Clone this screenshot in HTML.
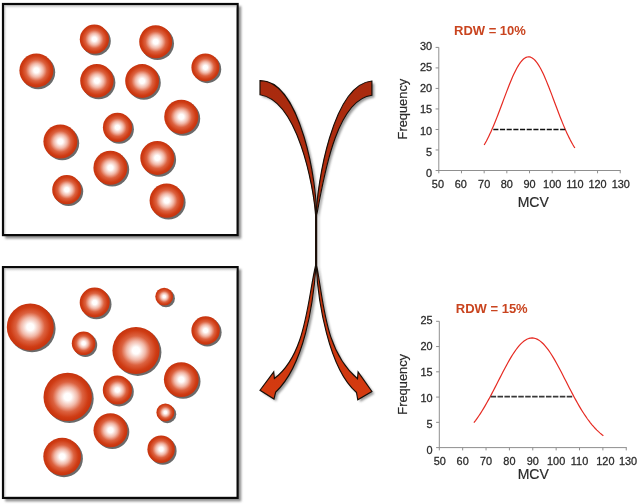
<!DOCTYPE html>
<html><head><meta charset="utf-8"><title>RDW</title>
<style>
html,body{margin:0;padding:0;background:#fff;}
body{width:640px;height:504px;overflow:hidden;font-family:"Liberation Sans",sans-serif;}
svg{display:block;opacity:0.999}
.tk{font-family:"Liberation Sans",sans-serif;font-size:10.2px;fill:#2a2a2a;stroke:#2a2a2a;stroke-width:0.25px}
.tt{font-family:"Liberation Sans",sans-serif;font-size:13px;font-weight:bold;fill:#c9441f}
.fl{font-family:"Liberation Sans",sans-serif;font-size:12.85px;fill:#2a2a2a;stroke:#2a2a2a;stroke-width:0.2px}
.ml{font-family:"Liberation Sans",sans-serif;font-size:14px;fill:#2a2a2a;stroke:#2a2a2a;stroke-width:0.2px}
</style></head><body>
<svg width="640" height="504" viewBox="0 0 640 504">
<defs>
<radialGradient id="sg" cx="0.5" cy="0.5" r="0.5">
<stop offset="0" stop-color="#ffffff"/>
<stop offset="0.15" stop-color="#fffdfc"/>
<stop offset="0.4" stop-color="#f1b8a8"/>
<stop offset="0.62" stop-color="#dc6240"/>
<stop offset="0.85" stop-color="#cf3c14"/>
<stop offset="1" stop-color="#c5330e"/>
</radialGradient>
<linearGradient id="ag" x1="0" y1="80" x2="0" y2="400" gradientUnits="userSpaceOnUse">
<stop offset="0" stop-color="#a82a0e"/>
<stop offset="0.45" stop-color="#b42e0e"/>
<stop offset="1" stop-color="#d63b10"/>
</linearGradient>
<linearGradient id="ist" x1="0" y1="0" x2="0" y2="1"><stop offset="0" stop-color="#9a9a9a" stop-opacity="0.75"/><stop offset="1" stop-color="#fff" stop-opacity="0"/></linearGradient>
<linearGradient id="isl" x1="0" y1="0" x2="1" y2="0"><stop offset="0" stop-color="#9a9a9a" stop-opacity="0.7"/><stop offset="1" stop-color="#fff" stop-opacity="0"/></linearGradient>
<filter id="sb" x="-20%" y="-20%" width="140%" height="140%"><feGaussianBlur stdDeviation="0.7"/></filter>
<filter id="bs" x="-5%" y="-5%" width="110%" height="110%"><feGaussianBlur stdDeviation="1.3"/></filter>
<filter id="as" x="-10%" y="-5%" width="120%" height="110%"><feGaussianBlur stdDeviation="1.2"/></filter>
</defs>
<rect width="640" height="504" fill="#fff"/>
<!-- boxes -->
<g>
<rect x="5.2" y="6.2" width="236" height="232.4" fill="#909090" filter="url(#bs)"/>
<rect x="3" y="4" width="234.6" height="231.1" fill="#fff" stroke="#0a0a0a" stroke-width="2.2"/>
<rect x="4.1" y="5.1" width="232.4" height="4.2" fill="url(#ist)"/>
<rect x="4.1" y="5.1" width="3.2" height="228.9" fill="url(#isl)"/>
<rect x="5.2" y="269.3" width="236" height="232.1" fill="#909090" filter="url(#bs)"/>
<rect x="3" y="267.1" width="234.6" height="230.8" fill="#fff" stroke="#0a0a0a" stroke-width="2.2"/>
<rect x="4.1" y="268.2" width="232.4" height="4.2" fill="url(#ist)"/>
<rect x="4.1" y="268.2" width="3.2" height="228.6" fill="url(#isl)"/>
</g>
<g>
<circle cx="96.2" cy="41.0" r="14.6" fill="#6a6a6a" filter="url(#sb)"/>
<circle cx="157.5" cy="43.5" r="16.5" fill="#6a6a6a" filter="url(#sb)"/>
<circle cx="38.2" cy="72.2" r="17.0" fill="#6a6a6a" filter="url(#sb)"/>
<circle cx="98.7" cy="82.6" r="16.7" fill="#6a6a6a" filter="url(#sb)"/>
<circle cx="143.9" cy="82.8" r="16.9" fill="#6a6a6a" filter="url(#sb)"/>
<circle cx="207.2" cy="69.2" r="14.0" fill="#6a6a6a" filter="url(#sb)"/>
<circle cx="183.1" cy="118.6" r="17.1" fill="#6a6a6a" filter="url(#sb)"/>
<circle cx="119.3" cy="129.2" r="14.6" fill="#6a6a6a" filter="url(#sb)"/>
<circle cx="62.2" cy="143.3" r="17.0" fill="#6a6a6a" filter="url(#sb)"/>
<circle cx="112.2" cy="169.5" r="17.0" fill="#6a6a6a" filter="url(#sb)"/>
<circle cx="159.1" cy="159.7" r="17.0" fill="#6a6a6a" filter="url(#sb)"/>
<circle cx="68.6" cy="191.5" r="14.6" fill="#6a6a6a" filter="url(#sb)"/>
<circle cx="168.5" cy="202.4" r="17.1" fill="#6a6a6a" filter="url(#sb)"/>
<circle cx="94.4" cy="39.2" r="14.6" fill="url(#sg)"/>
<circle cx="155.7" cy="41.7" r="16.5" fill="url(#sg)"/>
<circle cx="36.4" cy="70.4" r="17.0" fill="url(#sg)"/>
<circle cx="96.9" cy="80.8" r="16.7" fill="url(#sg)"/>
<circle cx="142.1" cy="81.0" r="16.9" fill="url(#sg)"/>
<circle cx="205.4" cy="67.4" r="14.0" fill="url(#sg)"/>
<circle cx="181.3" cy="116.8" r="17.1" fill="url(#sg)"/>
<circle cx="117.5" cy="127.4" r="14.6" fill="url(#sg)"/>
<circle cx="60.4" cy="141.5" r="17.0" fill="url(#sg)"/>
<circle cx="110.4" cy="167.7" r="17.0" fill="url(#sg)"/>
<circle cx="157.3" cy="157.9" r="17.0" fill="url(#sg)"/>
<circle cx="66.8" cy="189.7" r="14.6" fill="url(#sg)"/>
<circle cx="166.7" cy="200.6" r="17.1" fill="url(#sg)"/>
</g>
<g>
<circle cx="32.1" cy="328.8" r="23.5" fill="#6a6a6a" filter="url(#sb)"/>
<circle cx="96.5" cy="304.3" r="15.0" fill="#6a6a6a" filter="url(#sb)"/>
<circle cx="85.4" cy="345.1" r="11.8" fill="#6a6a6a" filter="url(#sb)"/>
<circle cx="166.0" cy="298.4" r="8.9" fill="#6a6a6a" filter="url(#sb)"/>
<circle cx="207.4" cy="332.3" r="14.2" fill="#6a6a6a" filter="url(#sb)"/>
<circle cx="137.8" cy="352.3" r="23.6" fill="#6a6a6a" filter="url(#sb)"/>
<circle cx="69.5" cy="398.7" r="24.2" fill="#6a6a6a" filter="url(#sb)"/>
<circle cx="119.2" cy="391.8" r="14.6" fill="#6a6a6a" filter="url(#sb)"/>
<circle cx="183.1" cy="381.4" r="17.4" fill="#6a6a6a" filter="url(#sb)"/>
<circle cx="167.2" cy="414.2" r="9.0" fill="#6a6a6a" filter="url(#sb)"/>
<circle cx="112.3" cy="432.0" r="17.0" fill="#6a6a6a" filter="url(#sb)"/>
<circle cx="64.0" cy="458.4" r="18.9" fill="#6a6a6a" filter="url(#sb)"/>
<circle cx="162.9" cy="451.0" r="13.7" fill="#6a6a6a" filter="url(#sb)"/>
<circle cx="30.3" cy="327.0" r="23.5" fill="url(#sg)"/>
<circle cx="94.7" cy="302.5" r="15.0" fill="url(#sg)"/>
<circle cx="83.6" cy="343.3" r="11.8" fill="url(#sg)"/>
<circle cx="164.2" cy="296.6" r="8.9" fill="url(#sg)"/>
<circle cx="205.6" cy="330.5" r="14.2" fill="url(#sg)"/>
<circle cx="136.0" cy="350.5" r="23.6" fill="url(#sg)"/>
<circle cx="67.7" cy="396.9" r="24.2" fill="url(#sg)"/>
<circle cx="117.4" cy="390.0" r="14.6" fill="url(#sg)"/>
<circle cx="181.3" cy="379.6" r="17.4" fill="url(#sg)"/>
<circle cx="165.4" cy="412.4" r="9.0" fill="url(#sg)"/>
<circle cx="110.5" cy="430.2" r="17.0" fill="url(#sg)"/>
<circle cx="62.2" cy="456.6" r="18.9" fill="url(#sg)"/>
<circle cx="161.1" cy="449.2" r="13.7" fill="url(#sg)"/>
</g>
<!-- arrows -->
<g>
<g transform="translate(2.4,2.2)" filter="url(#as)" opacity="0.6"><path d="M260.00,80.60 C301.07,80.01 317.81,186.75 316.10,215.00 L316.10,265.50 C313.30,303.65 304.40,365.11 275.60,392.25 L274.00,399.00 L260.00,390.25 L273.75,371.90 L274.40,378.50 C306.13,354.33 307.25,300.99 315.60,265.50 L315.60,215.00 C313.46,185.74 297.81,100.60 260.00,94.75 Z" fill="#555"/><path d="M371.90,81.00 C332.12,84.31 317.00,185.74 316.20,215.00 L316.20,265.50 C317.94,300.42 328.53,368.79 356.50,392.50 L357.75,399.75 L371.90,391.50 L358.10,371.90 L357.50,378.75 C324.88,350.80 324.14,304.46 316.70,265.50 L316.70,215.00 C322.32,187.56 334.01,99.82 371.90,95.25 Z" fill="#555"/></g>
<path d="M371.90,81.00 C332.12,84.31 317.00,185.74 316.20,215.00 L316.20,265.50 C317.94,300.42 328.53,368.79 356.50,392.50 L357.75,399.75 L371.90,391.50 L358.10,371.90 L357.50,378.75 C324.88,350.80 324.14,304.46 316.70,265.50 L316.70,215.00 C322.32,187.56 334.01,99.82 371.90,95.25 Z" fill="url(#ag)" stroke="#170e08" stroke-width="1.15" stroke-linejoin="miter"/>
<path d="M260.00,80.60 C301.07,80.01 317.81,186.75 316.10,215.00 L316.10,265.50 C313.30,303.65 304.40,365.11 275.60,392.25 L274.00,399.00 L260.00,390.25 L273.75,371.90 L274.40,378.50 C306.13,354.33 307.25,300.99 315.60,265.50 L315.60,215.00 C313.46,185.74 297.81,100.60 260.00,94.75 Z" fill="url(#ag)" stroke="#170e08" stroke-width="1.15" stroke-linejoin="miter"/>
</g>
<!-- charts -->
<g>
<path d="M438.8,47.4 V173.3 M435.6,170.5 H620.74" fill="none" stroke="#8f8f8f" stroke-width="1"/>
<path d="M435.6,47.40 H438.8" stroke="#8f8f8f" stroke-width="1"/>
<text transform="translate(432.00,50.15) scale(1.07,1)" text-anchor="end" class="tk">30</text>
<path d="M435.6,67.92 H438.8" stroke="#8f8f8f" stroke-width="1"/>
<text transform="translate(432.00,71.25) scale(1.07,1)" text-anchor="end" class="tk">25</text>
<path d="M435.6,88.43 H438.8" stroke="#8f8f8f" stroke-width="1"/>
<text transform="translate(432.00,92.35) scale(1.07,1)" text-anchor="end" class="tk">20</text>
<path d="M435.6,108.95 H438.8" stroke="#8f8f8f" stroke-width="1"/>
<text transform="translate(432.00,113.45) scale(1.07,1)" text-anchor="end" class="tk">15</text>
<path d="M435.6,129.47 H438.8" stroke="#8f8f8f" stroke-width="1"/>
<text transform="translate(432.00,134.55) scale(1.07,1)" text-anchor="end" class="tk">10</text>
<path d="M435.6,149.98 H438.8" stroke="#8f8f8f" stroke-width="1"/>
<text transform="translate(432.00,155.65) scale(1.07,1)" text-anchor="end" class="tk">5</text>
<text transform="translate(432.00,176.75) scale(1.07,1)" text-anchor="end" class="tk">0</text>
<text transform="translate(437.90,187.90) scale(1.07,1)" text-anchor="middle" class="tk">50</text>
<path d="M461.48,170.5 V173.3" stroke="#8f8f8f" stroke-width="1"/>
<text transform="translate(460.78,187.90) scale(1.07,1)" text-anchor="middle" class="tk">60</text>
<path d="M484.16,170.5 V173.3" stroke="#8f8f8f" stroke-width="1"/>
<text transform="translate(484.16,187.90) scale(1.07,1)" text-anchor="middle" class="tk">70</text>
<path d="M506.84,170.5 V173.3" stroke="#8f8f8f" stroke-width="1"/>
<text transform="translate(506.84,187.90) scale(1.07,1)" text-anchor="middle" class="tk">80</text>
<path d="M529.52,170.5 V173.3" stroke="#8f8f8f" stroke-width="1"/>
<text transform="translate(529.52,187.90) scale(1.07,1)" text-anchor="middle" class="tk">90</text>
<path d="M552.20,170.5 V173.3" stroke="#8f8f8f" stroke-width="1"/>
<text transform="translate(552.20,187.90) scale(1.07,1)" text-anchor="middle" class="tk">100</text>
<path d="M574.88,170.5 V173.3" stroke="#8f8f8f" stroke-width="1"/>
<text transform="translate(574.88,187.90) scale(1.07,1)" text-anchor="middle" class="tk">110</text>
<path d="M597.56,170.5 V173.3" stroke="#8f8f8f" stroke-width="1"/>
<text transform="translate(597.56,187.90) scale(1.07,1)" text-anchor="middle" class="tk">120</text>
<path d="M620.24,170.5 V173.3" stroke="#8f8f8f" stroke-width="1"/>
<text transform="translate(620.74,187.90) scale(1.07,1)" text-anchor="middle" class="tk">130</text>
<text x="454.0" y="35.0" class="tt">RDW = 10%</text>
<text transform="translate(406.8,109.1) rotate(-90)" text-anchor="middle" class="fl">Frequency</text>
<text x="533.2" y="206.75" text-anchor="middle" class="ml">MCV</text>
<path d="M484.16,145.04 L485.29,143.05 L486.43,140.96 L487.56,138.77 L488.70,136.49 L489.83,134.11 L490.96,131.64 L492.10,129.09 L493.23,126.45 L494.37,123.74 L495.50,120.95 L496.63,118.10 L497.77,115.20 L498.90,112.25 L500.04,109.26 L501.17,106.24 L502.30,103.20 L503.44,100.16 L504.57,97.12 L505.71,94.11 L506.84,91.12 L507.97,88.17 L509.11,85.29 L510.24,82.47 L511.38,79.74 L512.51,77.10 L513.64,74.58 L514.78,72.17 L515.91,69.91 L517.05,67.79 L518.18,65.83 L519.31,64.04 L520.45,62.43 L521.58,61.01 L522.72,59.79 L523.85,58.77 L524.98,57.97 L526.12,57.37 L527.25,57.00 L528.39,56.84 L529.52,56.91 L530.65,57.20 L531.79,57.70 L532.92,58.42 L534.06,59.36 L535.19,60.50 L536.32,61.84 L537.46,63.38 L538.59,65.09 L539.73,66.99 L540.86,69.04 L541.99,71.25 L543.13,73.60 L544.26,76.08 L545.40,78.67 L546.53,81.37 L547.66,84.15 L548.80,87.01 L549.93,89.93 L551.07,92.91 L552.20,95.91 L553.33,98.95 L554.47,101.99 L555.60,105.03 L556.74,108.05 L557.87,111.05 L559.00,114.02 L560.14,116.95 L561.27,119.82 L562.41,122.63 L563.54,125.37 L564.67,128.04 L565.81,130.63 L566.94,133.13 L568.08,135.55 L569.21,137.87 L570.34,140.10 L571.48,142.23 L572.61,144.26 L573.75,146.19 L574.88,148.03" fill="none" stroke="#e62a22" stroke-width="1.2" stroke-linejoin="round"/>
<path d="M493.3,129.4 H565.2" stroke="#111" stroke-width="1.5" stroke-dasharray="5.1 1.58"/>
</g>
<g>
<path d="M439.3,321.3 V450.40000000000003 M436.1,447.6 H626.76" fill="none" stroke="#8f8f8f" stroke-width="1"/>
<path d="M436.1,321.30 H439.3" stroke="#8f8f8f" stroke-width="1"/>
<text transform="translate(432.50,323.95) scale(1.07,1)" text-anchor="end" class="tk">25</text>
<path d="M436.1,346.56 H439.3" stroke="#8f8f8f" stroke-width="1"/>
<text transform="translate(432.50,349.95) scale(1.07,1)" text-anchor="end" class="tk">20</text>
<path d="M436.1,371.82 H439.3" stroke="#8f8f8f" stroke-width="1"/>
<text transform="translate(432.50,375.95) scale(1.07,1)" text-anchor="end" class="tk">15</text>
<path d="M436.1,397.08 H439.3" stroke="#8f8f8f" stroke-width="1"/>
<text transform="translate(432.50,401.95) scale(1.07,1)" text-anchor="end" class="tk">10</text>
<path d="M436.1,422.34 H439.3" stroke="#8f8f8f" stroke-width="1"/>
<text transform="translate(432.50,427.95) scale(1.07,1)" text-anchor="end" class="tk">5</text>
<text transform="translate(432.50,453.95) scale(1.07,1)" text-anchor="end" class="tk">0</text>
<text transform="translate(439.80,465.00) scale(1.07,1)" text-anchor="middle" class="tk">50</text>
<path d="M462.67,447.6 V450.40000000000003" stroke="#8f8f8f" stroke-width="1"/>
<text transform="translate(462.67,465.00) scale(1.07,1)" text-anchor="middle" class="tk">60</text>
<path d="M486.04,447.6 V450.40000000000003" stroke="#8f8f8f" stroke-width="1"/>
<text transform="translate(486.04,465.00) scale(1.07,1)" text-anchor="middle" class="tk">70</text>
<path d="M509.41,447.6 V450.40000000000003" stroke="#8f8f8f" stroke-width="1"/>
<text transform="translate(509.41,465.00) scale(1.07,1)" text-anchor="middle" class="tk">80</text>
<path d="M532.78,447.6 V450.40000000000003" stroke="#8f8f8f" stroke-width="1"/>
<text transform="translate(532.78,465.00) scale(1.07,1)" text-anchor="middle" class="tk">90</text>
<path d="M556.15,447.6 V450.40000000000003" stroke="#8f8f8f" stroke-width="1"/>
<text transform="translate(556.15,465.00) scale(1.07,1)" text-anchor="middle" class="tk">100</text>
<path d="M579.52,447.6 V450.40000000000003" stroke="#8f8f8f" stroke-width="1"/>
<text transform="translate(579.52,465.00) scale(1.07,1)" text-anchor="middle" class="tk">110</text>
<path d="M602.89,447.6 V450.40000000000003" stroke="#8f8f8f" stroke-width="1"/>
<text transform="translate(605.39,465.00) scale(1.07,1)" text-anchor="middle" class="tk">120</text>
<path d="M626.26,447.6 V450.40000000000003" stroke="#8f8f8f" stroke-width="1"/>
<text transform="translate(628.01,465.00) scale(1.07,1)" text-anchor="middle" class="tk">130</text>
<text x="455.8" y="312.5" class="tt">RDW = 15%</text>
<text transform="translate(406.8,384.3) rotate(-90)" text-anchor="middle" class="fl">Frequency</text>
<text x="533.2" y="478.8" text-anchor="middle" class="ml">MCV</text>
<path d="M473.89,422.66 L475.51,420.55 L477.12,418.33 L478.74,416.00 L480.36,413.56 L481.98,411.01 L483.60,408.37 L485.22,405.63 L486.83,402.81 L488.45,399.90 L490.07,396.92 L491.69,393.88 L493.31,390.78 L494.93,387.65 L496.54,384.48 L498.16,381.30 L499.78,378.12 L501.40,374.96 L503.02,371.82 L504.64,368.73 L506.26,365.70 L507.87,362.75 L509.49,359.89 L511.11,357.15 L512.73,354.53 L514.35,352.05 L515.97,349.74 L517.58,347.59 L519.20,345.64 L520.82,343.88 L522.44,342.34 L524.06,341.01 L525.68,339.92 L527.29,339.06 L528.91,338.45 L530.53,338.09 L532.15,337.97 L533.77,338.11 L535.39,338.49 L537.00,339.13 L538.62,340.00 L540.24,341.12 L541.86,342.46 L543.48,344.03 L545.10,345.80 L546.71,347.77 L548.33,349.93 L549.95,352.26 L551.57,354.75 L553.19,357.38 L554.81,360.13 L556.42,363.00 L558.04,365.96 L559.66,368.99 L561.28,372.09 L562.90,375.23 L564.52,378.40 L566.13,381.58 L567.75,384.76 L569.37,387.92 L570.99,391.05 L572.61,394.14 L574.23,397.18 L575.85,400.15 L577.46,403.06 L579.08,405.87 L580.70,408.60 L582.32,411.24 L583.94,413.77 L585.56,416.20 L587.17,418.52 L588.79,420.74 L590.41,422.84 L592.03,424.82 L593.65,426.70 L595.27,428.47 L596.88,430.12 L598.50,431.67 L600.12,433.12 L601.74,434.46 L603.36,435.71" fill="none" stroke="#e62a22" stroke-width="1.2" stroke-linejoin="round"/>
<path d="M490.6,396.7 H573.4" stroke="#383838" stroke-width="1.8" stroke-dasharray="5.5 1.42"/>
</g>
</svg>
</body></html>
